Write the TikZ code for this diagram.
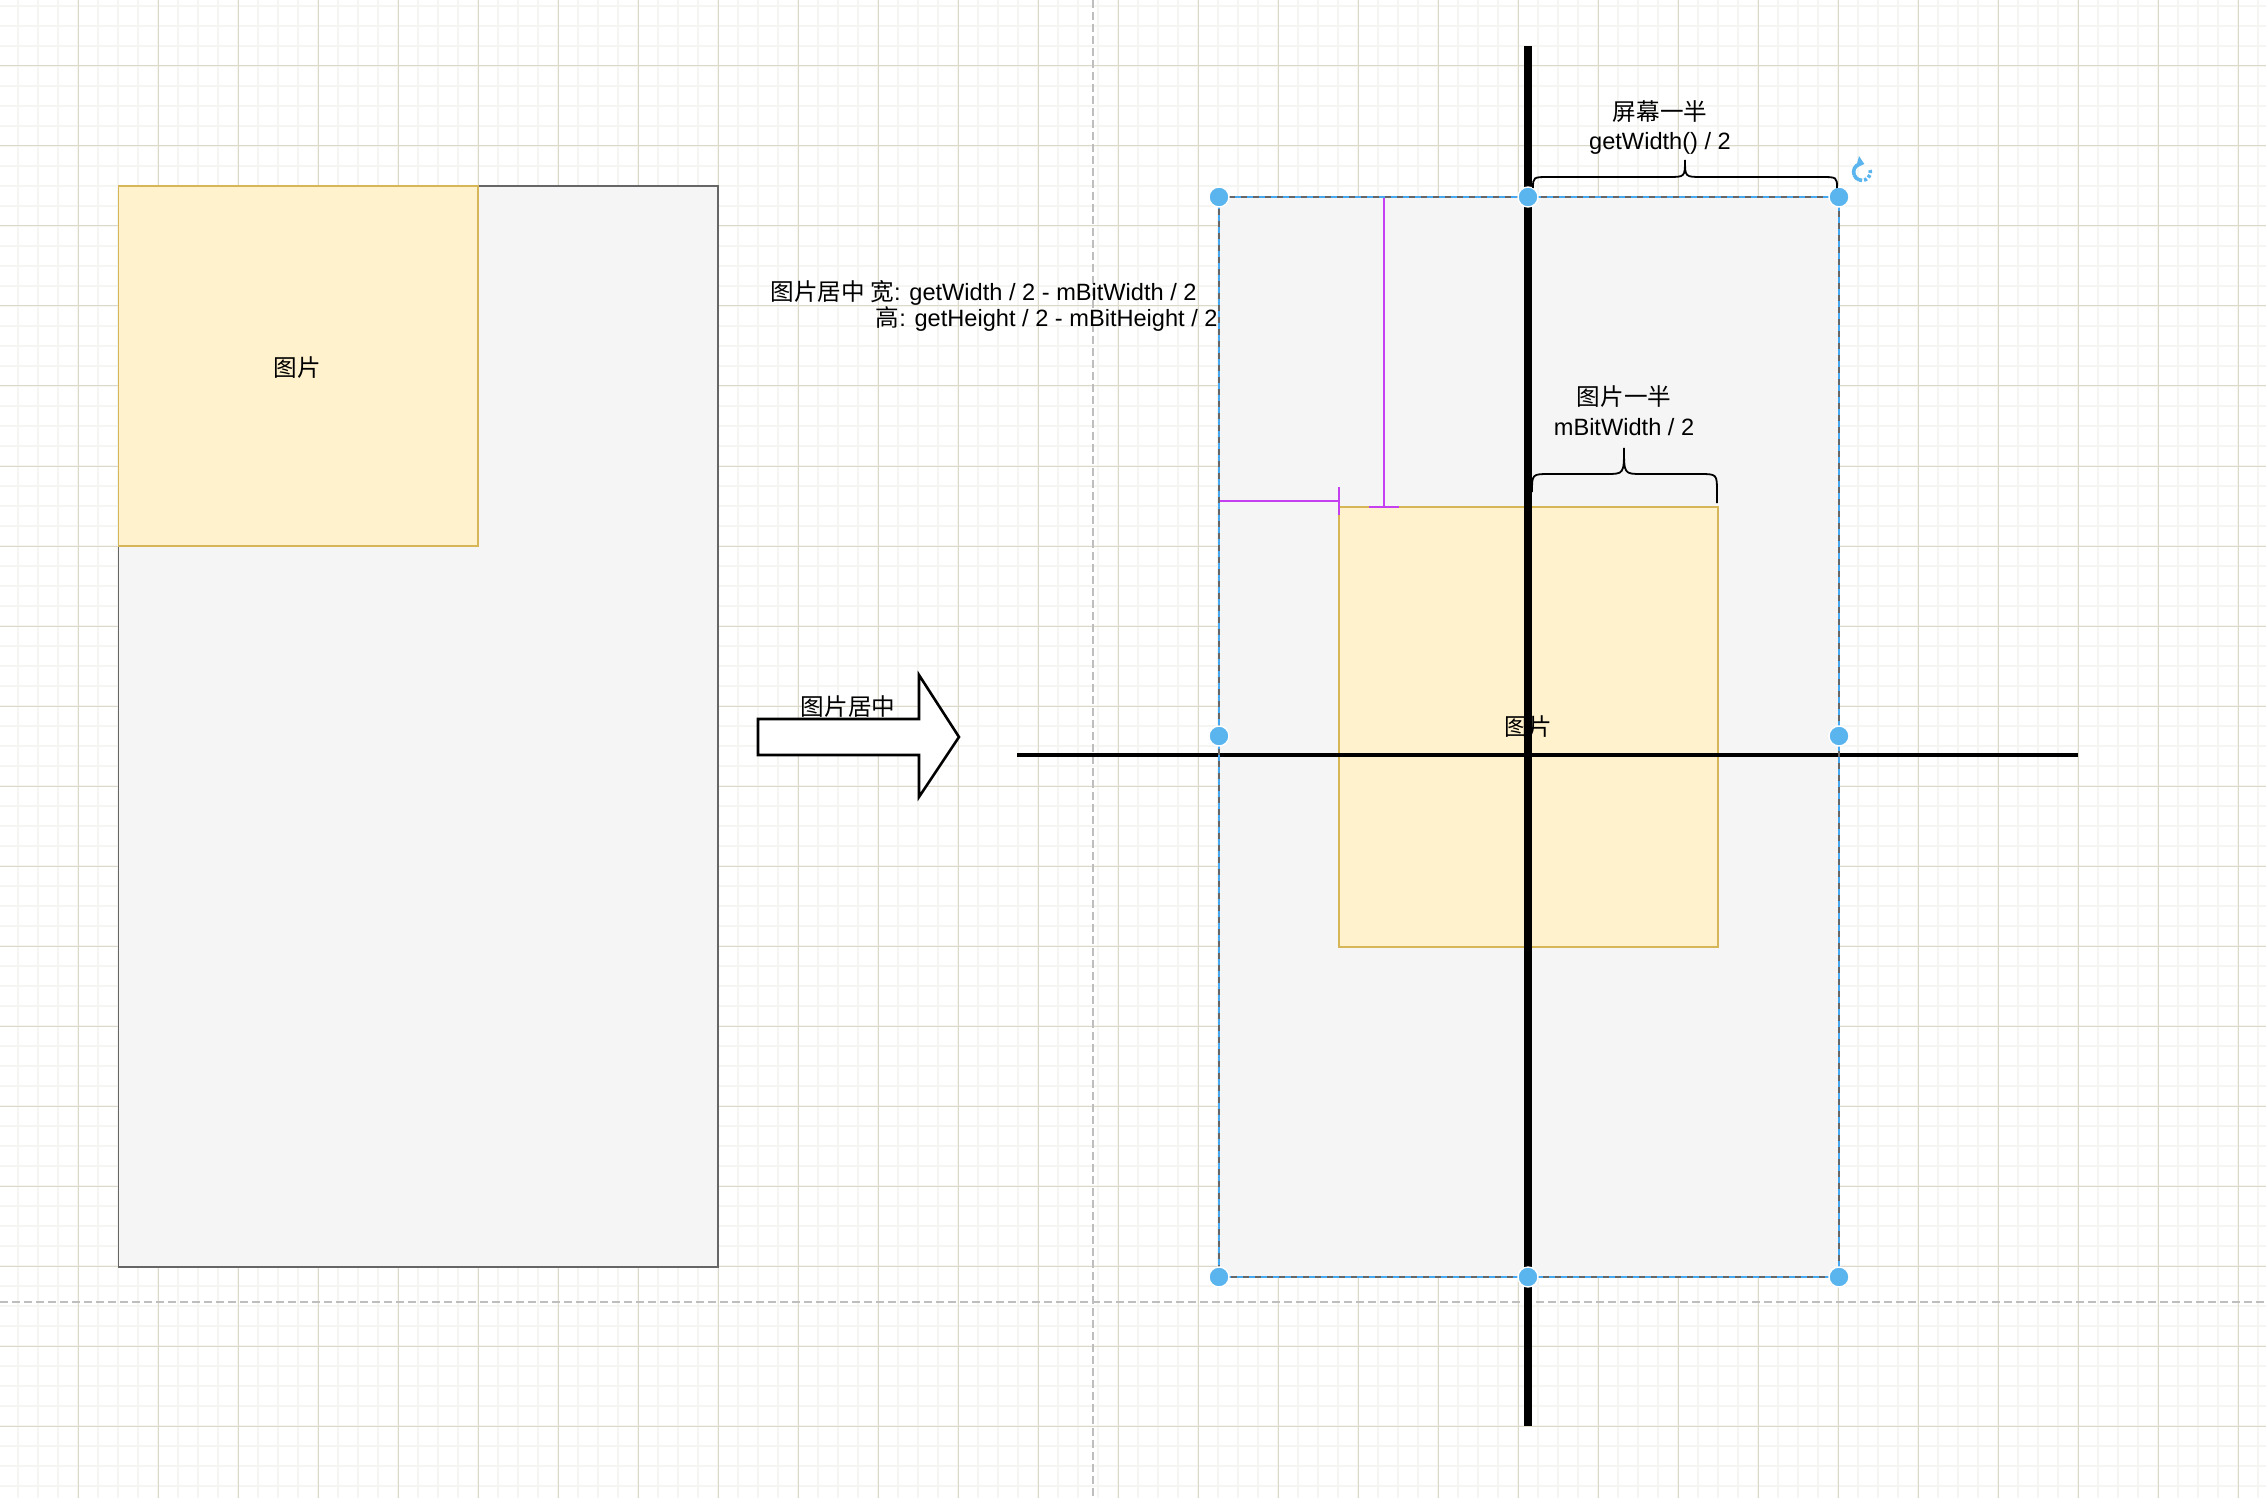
\documentclass[tikz,border=0pt]{standalone}
\usepackage{fontspec}
\setmainfont{Liberation Sans}
\newfontfamily\cjk{Noto Sans CJK SC}
\usetikzlibrary{arrows.meta,calc}
\definecolor{gridminor}{RGB}{245,245,241}
\definecolor{gridmajor}{RGB}{220,216,202}
\definecolor{guide}{RGB}{190,190,190}
\definecolor{panelfill}{RGB}{245,245,245}
\definecolor{panelline}{RGB}{102,102,102}
\definecolor{imgfill}{RGB}{255,242,204}
\definecolor{imgline}{RGB}{214,182,86}
\definecolor{handle}{RGB}{90,180,238}
\definecolor{selblue}{RGB}{70,168,240}
\definecolor{dimline}{RGB}{196,64,240}
\tikzset{
  minorgrid/.style={draw=gridminor, line width=0.85pt},
  majorgrid/.style={draw=gridmajor, line width=0.5pt},
  guideline/.style={draw=guide, line width=0.6pt, dash pattern=on 4pt off 2pt},
  panel/.style={fill=panelfill, draw=panelline, line width=0.8pt},
  imgbox/.style={fill=imgfill, draw=imgline, line width=0.8pt},
  axisthick/.style={draw=black, line width=3.6pt},
  axisthin/.style={draw=black, line width=2pt},
  dimstyle/.style={draw=dimline, line width=1pt},
  bracestyle/.style={draw=black, line width=0.9pt},
  handledot/.style={circle, fill=handle, draw=white, line width=0.7pt, minimum size=10pt, inner sep=0pt},
  lbl/.style={inner sep=0pt, font=\fontsize{11.8}{14}\selectfont},
  bigarrow/.style={draw=black, fill=white, line width=1.3pt, line join=miter},
}
\begin{document}
\begin{tikzpicture}[x=0.5pt,y=-0.5pt]
\useasboundingbox (0,0) rectangle (2266,1498);
\fill[white] (0,0) rectangle (2266,1498);
% grid
\foreach \x in {18,38,...,2266} \draw[minorgrid] (\x,0) -- (\x,1498);
\foreach \y in {6,26,...,1498} \draw[minorgrid] (0,\y) -- (2266,\y);
\foreach \x in {78,158,...,2266} \draw[majorgrid] (\x,0) -- (\x,1498);
\foreach \y in {66,146,...,1498} \draw[majorgrid] (0,\y) -- (2266,\y);
% guides
\coordinate (gvt) at (1093,0);
\coordinate (gvb) at (1093,1498);
\coordinate (ghl) at (0,1302);
\coordinate (ghr) at (2266,1302);
\draw[guideline] (gvt) -- (gvb);
\draw[guideline] (ghl) -- (ghr);

% left screen
\coordinate (ls1) at (118.5,186);
\coordinate (ls2) at (718,1267);
\draw[panel] (ls1) rectangle (ls2);
\coordinate (li1) at (118.5,186);
\coordinate (li2) at (478,546);
\draw[imgbox] (li1) rectangle (li2);
\node[lbl] (limg) at (297,368) {\cjk 图片};

% big arrow
\draw[bigarrow] (758,719) -- (919,719) -- (919,675) -- (959,737) -- (919,797) -- (919,755) -- (758,755) -- cycle;
\node[lbl] (arrlbl) at (848,707) {\cjk 图片居中};

% main label
\node[lbl, anchor=base east] (m1) at (1197,301) {{\cjk 图片居中 宽}: getWidth / 2 - mBitWidth / 2};
\node[lbl, anchor=base east] (m2) at (1218,327) {{\cjk 高}: getHeight / 2 - mBitHeight / 2};

% right screen
\coordinate (rs1) at (1219,197);
\coordinate (rs2) at (1839,1277);
\fill[panelfill] (rs1) rectangle (rs2);
\coordinate (ri1) at (1339,507);
\coordinate (ri2) at (1718,947);
\draw[imgbox] (ri1) rectangle (ri2);
\node[lbl] (rimg) at (1528,727) {\cjk 图片};

% axes
\coordinate (vt) at (1528,46);
\coordinate (vb) at (1528,1426);
\coordinate (hl) at (1017,755);
\coordinate (hr) at (2078,755);
\draw[axisthin] (hl) -- (hr);
\draw[axisthick] (vt) -- (vb);

% dimension lines
\coordinate (dh1) at (1219,501);
\coordinate (dh2) at (1339,501);
\draw[dimstyle] (dh1) -- (dh2);
\draw[dimstyle] ($(dh2)+(0,-14)$) -- ($(dh2)+(0,14)$);
\draw[dimstyle] ($(dh1)+(0,-12)$) -- ($(dh1)+(0,12)$);
\coordinate (dv1) at (1384,197);
\coordinate (dv2) at (1384,507);
\draw[dimstyle] (dv1) -- (dv2);
\draw[dimstyle] ($(dv2)+(-15,0)$) -- ($(dv2)+(15,0)$);
\draw[dimstyle] ($(dv1)+(-15,0)$) -- ($(dv1)+(15,0)$);

% selection border
\draw[selblue, line width=0.9pt] (rs1) rectangle (rs2);
\draw[panelline, line width=0.9pt, dash pattern=on 3pt off 3pt] (rs1) rectangle (rs2);

% handles
\node[handledot] (h1) at (1219,197) {};
\node[handledot] (h2) at (1528,197) {};
\node[handledot] (h3) at (1839,197) {};
\node[handledot] (h4) at (1219,736) {};
\node[handledot] (h5) at (1839,736) {};
\node[handledot] (h6) at (1219,1277) {};
\node[handledot] (h7) at (1528,1277) {};
\node[handledot] (h8) at (1839,1277) {};
% rotate icon
\coordinate (rot) at (1862,172);
\draw[handle, line width=1.8pt, -{Triangle[length=3.5pt,width=6pt]}] ([shift={(200:4.2pt)}]rot) arc[start angle=200, end angle=75, radius=4.2pt] ;
\draw[handle, line width=1.8pt] ([shift={(200:4.2pt)}]rot) arc[start angle=200, end angle=250, radius=4.2pt];
\draw[handle, line width=1.8pt, dash pattern=on 1.5pt off 1pt] ([shift={(250:4.2pt)}]rot) arc[start angle=250, end angle=385, radius=4.2pt];

% braces
\draw[bracestyle] (1533,188) .. controls (1533,177) .. (1550,177) -- (1668,177)
  .. controls (1685,177) .. (1685,160) .. controls (1685,177) .. (1702,177) -- (1820,177)
  .. controls (1837,177) .. (1837,188);
\draw[bracestyle] (1532,492) .. controls (1532,474) .. (1550,474) -- (1606,474)
  .. controls (1624,474) .. (1624,448) .. controls (1624,474) .. (1642,474) -- (1699,474)
  .. controls (1717,474) .. (1717,492) -- (1717,503);

% brace labels
\node[lbl, anchor=base] (b1a) at (1660,121) {\cjk 屏幕一半};
\node[lbl, anchor=base] (b1b) at (1660,150) {getWidth() / 2};
\node[lbl, anchor=base] (b2a) at (1624,406) {\cjk 图片一半};
\node[lbl, anchor=base] (b2b) at (1624,435) {mBitWidth / 2};
\end{tikzpicture}
\end{document}
